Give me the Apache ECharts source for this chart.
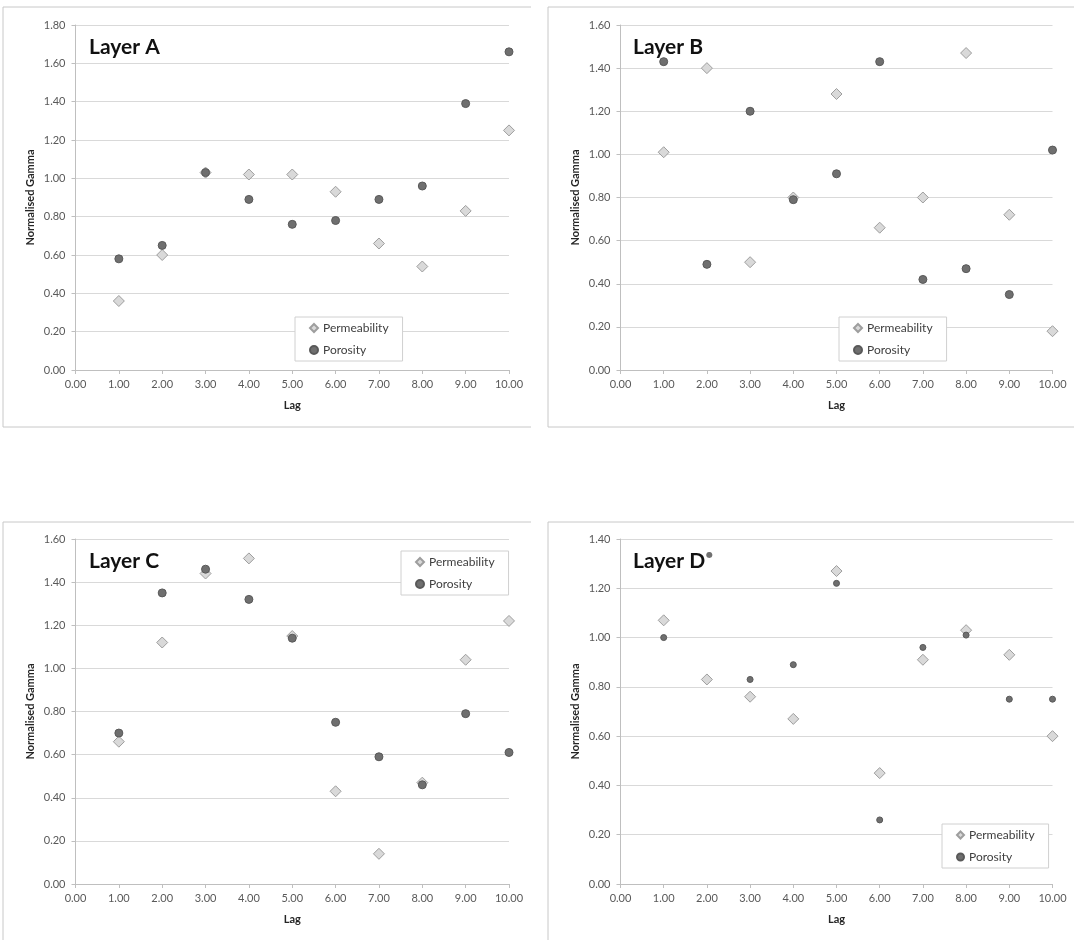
<!DOCTYPE html>
<html>
<head>
<meta charset="utf-8">
<script src="https://cdn.jsdelivr.net/npm/echarts@6/dist/echarts.min.js"></script>
<style>
html,body{margin:0;padding:0;background:#fff;}
#c{position:absolute;left:0;top:0;width:1092px;height:940px;}
</style>
</head>
<body>
<div id="c"></div>
<script>
// ---- data ----
const lags = [1, 2, 3, 4, 5, 6, 7, 8, 9, 10];
const titles = ['Layer A', 'Layer B', 'Layer C', 'Layer D'];
const seriesNames = ['Permeability', 'Porosity'];
const yMaxes = [1.8, 1.6, 1.6, 1.4];

const permA = [0.36, 0.60, 1.03, 1.02, 1.02, 0.93, 0.66, 0.54, 0.83, 1.25];
const poroA = [0.58, 0.65, 1.03, 0.89, 0.76, 0.78, 0.89, 0.96, 1.39, 1.66];

const permB = [1.01, 1.40, 0.50, 0.80, 1.28, 0.66, 0.80, 1.47, 0.72, 0.18];
const poroB = [1.43, 0.49, 1.20, 0.79, 0.91, 1.43, 0.42, 0.47, 0.35, 1.02];

const permC = [0.66, 1.12, 1.44, 1.51, 1.15, 0.43, 0.14, 0.47, 1.04, 1.22];
const poroC = [0.70, 1.35, 1.46, 1.32, 1.14, 0.75, 0.59, 0.46, 0.79, 0.61];

const permD = [1.07, 0.83, 0.76, 0.67, 1.27, 0.45, 0.91, 1.03, 0.93, 0.60];
const poroD = [1.00, '-', 0.83, 0.89, 1.22, 0.26, 0.96, 1.01, 0.75, 0.75];

const permAll = [permA, permB, permC, permD];
const poroAll = [poroA, poroB, poroC, poroD];

// ---- layout ----
const grids = [
  {left: 75.5, top: 25, width: 433.5, height: 345},
  {left: 620.5, top: 25, width: 432, height: 345},
  {left: 75.5, top: 539, width: 433.5, height: 345},
  {left: 620.5, top: 539, width: 432, height: 345}
];
const legendPos = [
  {left: 295, top: 317},
  {left: 839, top: 317},
  {left: 401, top: 551},
  {left: 942, top: 824}
];
const titlePos = [[89, 47], [633, 47], [89, 561.5], [633, 561.5]];
const framePos = [
  [[531, 7], [3, 7], [3, 427], [531, 427]],
  [[1074, 7], [548, 7], [548, 427], [1074, 427]],
  [[531, 522], [3, 522], [3, 945]],
  [[1074, 522], [548, 522], [548, 945]]
];
const circleSizes = [8, 8, 8, 6];

const FONT = 'Lato, "Liberation Sans", sans-serif';

const xAxes = [], yAxes = [], series = [], legends = [], graphics = [];
for (let i = 0; i < 4; i++) {
  xAxes.push({
    type: 'value', gridIndex: i, min: 0, max: 10, interval: 1,
    name: 'Lag', nameLocation: 'middle', nameGap: 30,
    nameTextStyle: {fontFamily: FONT, fontWeight: 'bold', fontSize: 11, color: '#262626'},
    axisLine: {show: true, lineStyle: {color: '#bfbfbf', width: 1}},
    axisTick: {show: true, length: 4, lineStyle: {color: '#bfbfbf'}},
    axisLabel: {fontFamily: FONT, fontSize: 11, color: '#595959', margin: 9,
      formatter: v => v.toFixed(2)},
    splitLine: {show: false}
  });
  yAxes.push({
    type: 'value', gridIndex: i, min: 0, max: yMaxes[i], interval: 0.2,
    name: 'Normalised Gamma', nameLocation: 'middle', nameGap: 40,
    nameTextStyle: {fontFamily: FONT, fontWeight: 'bold', fontSize: 11, color: '#262626'},
    axisLine: {show: true, lineStyle: {color: '#bfbfbf', width: 1}},
    axisTick: {show: true, length: 4, lineStyle: {color: '#bfbfbf'}},
    axisLabel: {fontFamily: FONT, fontSize: 11, color: '#595959', margin: 10,
      formatter: v => v.toFixed(2)},
    splitLine: {show: true, lineStyle: {color: '#d9d9d9', width: 1}}
  });
  series.push({
    name: seriesNames[0], type: 'scatter', xAxisIndex: i, yAxisIndex: i,
    symbol: 'diamond', symbolSize: 11,
    itemStyle: {color: '#d9d9d9', borderColor: '#9e9e9e', borderWidth: 1, opacity: 1},
    data: lags.map((l, k) => [l, permAll[i][k]]),
    z: 2
  });
  series.push({
    name: seriesNames[1], type: 'scatter', xAxisIndex: i, yAxisIndex: i,
    symbol: 'circle', symbolSize: circleSizes[i],
    itemStyle: {color: '#6f6f6f', borderColor: '#595959', borderWidth: 1, opacity: 1},
    data: lags.map((l, k) => [l, poroAll[i][k]]),
    z: 3
  });
  legends.push({
    orient: 'vertical', left: legendPos[i].left, top: legendPos[i].top,
    data: [{name: seriesNames[0], icon: 'diamond'}, {name: seriesNames[1], icon: 'circle'}],
    padding: [4, 14, 4, 14], itemGap: 8, itemWidth: i === 3 ? 7 : 8, itemHeight: i === 3 ? 7 : 8,
    backgroundColor: '#fff', borderColor: '#d0d0d0', borderWidth: 1, borderRadius: 0,
    selectedMode: false,
    textStyle: {fontFamily: FONT, fontSize: 12, lineHeight: 14, color: '#404040', padding: [0, 0, 0, 0]}
  });
  graphics.push({
    type: 'polyline', silent: true, z: 0,
    shape: {points: framePos[i]},
    style: {stroke: '#c8c8c8', lineWidth: 1, fill: null}
  });
  const isD = i === 3;
  graphics.push({
    type: 'text', silent: true, z: 10,
    x: titlePos[i][0], y: titlePos[i][1],
    style: {
      text: isD ? '{t|Layer D}{s|●}' : titles[i],
      fontFamily: FONT, fontWeight: 'bold', fontSize: 21, fill: '#111',
      verticalAlign: 'middle', align: 'left',
      rich: isD ? {
        t: {fontFamily: FONT, fontWeight: 'bold', fontSize: 21, fill: '#111'},
        s: {fontFamily: '"DejaVu Sans", sans-serif', fontSize: 8, lineHeight: 12, fill: '#707070', verticalAlign: 'top', padding: [0, 0, 0, 1]}
      } : undefined
    }
  });
}

const chart = echarts.init(document.getElementById('c'), null, {renderer: 'canvas'});
chart.setOption({
  animation: false,
  backgroundColor: '#fff',
  grid: grids,
  xAxis: xAxes,
  yAxis: yAxes,
  legend: legends,
  series: series,
  graphic: graphics
});
</script>
</body>
</html>
